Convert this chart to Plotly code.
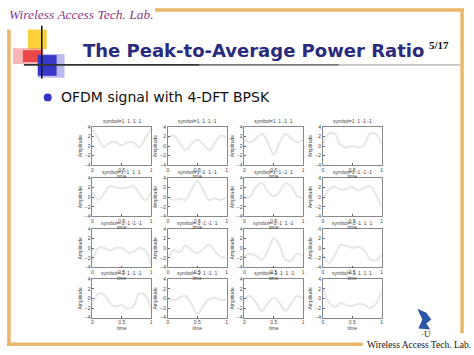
import plotly.graph_objects as go

# ---------------- data ----------------
t = [0, 0.1, 0.2, 0.3, 0.4, 0.5, 0.6, 0.7, 0.8, 0.9, 1.0]

titles = [
    "symbol=1  1  1  1", "symbol=1  1  1 -1", "symbol=1  1 -1  1", "symbol=1  1 -1 -1",
    "symbol=1 -1  1  1", "symbol=1 -1  1 -1", "symbol=1 -1 -1  1", "symbol=1 -1 -1 -1",
    "symbol=-1 -1 -1 -1", "symbol=-1 -1 -1  1", "symbol=-1 -1  1 -1", "symbol=-1 -1  1  1",
    "symbol=-1  1 -1 -1", "symbol=-1  1 -1  1", "symbol=-1  1  1 -1", "symbol=-1  1  1  1",
]

s01 = [3.6, 1.6, -0.2, 0.8, 0.8, 0.1, 0.8, 0.8, -0.2, 1.6, 3.6]
s02 = [1.8, 2.2, 0.6, -0.9, 0.4, 1.3, 0.4, -0.9, 0.6, 2.2, 1.8]
s03 = [1.4, 0.8, 1.6, 2.5, 0.8, -1.8, 0.8, 2.5, 1.6, 0.8, 1.4]
s04 = [0.3, 2.6, 2.6, 0.2, -0.3, 0.0, -0.3, 0.2, 2.6, 2.6, 0.3]
s05 = [1.0, -0.6, 0.8, 2.3, 2.0, 1.8, 2.0, 2.3, 0.8, -0.6, 1.0]
s06 = [0.0, -0.6, -0.3, -0.6, 1.5, 3.4, 1.5, -0.6, -0.3, -0.6, 0.0]
s07 = [-0.2, 0.2, 2.2, 2.9, 1.2, 0.2, 1.2, 2.9, 2.2, 0.2, -0.2]
s08 = [-0.5, 1.5, 2.2, 1.6, 1.7, 2.1, 1.4, 1.9, 2.3, 0.6, -2.0]
s09 = [-3.1, 0.1, 0.1, -0.5, 0.1, 0.1, -0.9, -0.7, 0.1, -0.4, -3.3]
s10 = [-2.0, -0.4, -0.8, 0.6, -0.4, -1.0, -0.2, 0.8, -0.6, -1.8, -2.0]
s11 = [-1.7, -1.1, -1.6, -2.4, -0.5, 2.1, 0.6, -2.4, -2.5, -1.1, -1.6]
s12 = [-1.4, -3.0, -1.5, 0.7, 0.5, 0.1, 0.3, -0.4, -2.2, -2.6, -1.3]
s13 = [-1.6, 1.0, 0.8, -1.0, -1.7, -1.4, -2.2, -1.6, 1.0, 0.6, -2.3]
s14 = [-0.2, -0.4, 0.2, 0.5, -1.2, -3.3, -1.6, -0.2, 0.2, -0.3, -0.3]
s15 = [0.1, 0.5, -1.0, -2.6, -1.0, 0.1, -1.0, -2.6, -1.0, 0.5, 0.0]
s16 = [2.2, -0.8, -1.8, -1.0, -1.4, -1.6, -1.1, -1.3, -2.0, -1.2, 1.6]

series = [s01, s02, s03, s04, s05, s06, s07, s08,
          s09, s10, s11, s12, s13, s14, s15, s16]

y_ticks = [-4, -2, 0, 2, 4]
x_ticks = [0, 0.5, 1]
x_tick_labels = ["0", "0.5", "1"]

# ---------------- layout helpers ----------------
W, H = 474, 355


def X(px):
    return px / W


def Y(py):
    return 1 - py / H


col_left = [92, 168, 245, 324]
row_top = [126, 178, 230, 281]
pw, ph = 59, 39

fig = go.Figure()
layout = dict(
    width=W, height=H, margin=dict(l=0, r=0, t=0, b=0),
    paper_bgcolor="white", plot_bgcolor="white", showlegend=False,
)
annotations = []
shapes = []

small = dict(family="Liberation Sans, Arial, sans-serif", size=5, color="#444")

for i, ys in enumerate(series):
    r, c = divmod(i, 4)
    n = i + 1
    xa = "xaxis" if n == 1 else f"xaxis{n}"
    ya = "yaxis" if n == 1 else f"yaxis{n}"
    xr = "x" if n == 1 else f"x{n}"
    yr = "y" if n == 1 else f"y{n}"
    l, tp = col_left[c], row_top[r]
    fig.add_trace(go.Scatter(
        x=t, y=ys, mode="lines", xaxis=xr, yaxis=yr,
        line=dict(color="#e6e6e6", width=2, shape="spline", smoothing=1.0),
        hoverinfo="skip"))
    layout[xa] = dict(
        domain=[X(l), X(l + pw)], anchor=yr, range=[0, 1],
        tickvals=x_ticks, ticktext=x_tick_labels, ticks="inside", ticklen=2,
        tickcolor="#666", showline=True, mirror=True, linecolor="#888",
        linewidth=0.8, showgrid=False, zeroline=False, tickfont=small,
        title=dict(text="time", font=small, standoff=0),
    )
    layout[ya] = dict(
        domain=[Y(tp + ph), Y(tp)], anchor=xr, range=[-4, 4],
        tickvals=y_ticks, ticks="inside", ticklen=2, tickcolor="#666",
        showline=True, mirror=True, linecolor="#888", linewidth=0.8,
        showgrid=False, zeroline=False, tickfont=small,
        title=dict(text="Amplitude", font=small, standoff=2),
    )
    annotations.append(dict(
        text=titles[i], x=X(l + pw / 2), y=Y(tp - 1), xref="paper", yref="paper",
        xanchor="center", yanchor="bottom", showarrow=False, font=small))

# ---------------- slide decorations ----------------
orange = "#eab66a"
shapes += [
    dict(type="line", x0=X(155), x1=X(466), y0=Y(7), y1=Y(7), xref="paper", yref="paper",
         line=dict(color=orange, width=3.5)),
    dict(type="line", x0=X(464), x1=X(464), y0=Y(6), y1=Y(336), xref="paper", yref="paper",
         line=dict(color=orange, width=3.5)),
    dict(type="line", x0=X(8), x1=X(8), y0=Y(27), y1=Y(348), xref="paper", yref="paper",
         line=dict(color=orange, width=3.5)),
    dict(type="line", x0=X(6), x1=X(364), y0=Y(347), y1=Y(347), xref="paper", yref="paper",
         line=dict(color=orange, width=3.5)),
    # decorative squares
    dict(type="rect", x0=X(27), x1=X(46), y0=Y(47), y1=Y(27), xref="paper", yref="paper",
         fillcolor="#f9d23a", line=dict(width=0)),
    dict(type="rect", x0=X(12), x1=X(42), y0=Y(62), y1=Y(46), xref="paper", yref="paper",
         fillcolor="rgba(240,90,90,0.45)", line=dict(width=0)),
    dict(type="rect", x0=X(22), x1=X(42), y0=Y(60), y1=Y(48), xref="paper", yref="paper",
         fillcolor="rgba(235,50,50,0.85)", line=dict(width=0)),
    dict(type="rect", x0=X(37), x1=X(64), y0=Y(76), y1=Y(52), xref="paper", yref="paper",
         fillcolor="rgba(60,60,210,0.35)", line=dict(width=0)),
    dict(type="rect", x0=X(37), x1=X(56), y0=Y(74), y1=Y(53), xref="paper", yref="paper",
         fillcolor="#3838c8", line=dict(width=0)),
    dict(type="line", x0=X(41), x1=X(41), y0=Y(23), y1=Y(77), xref="paper", yref="paper",
         line=dict(color="#111", width=1.5)),
    dict(type="line", x0=X(23), x1=X(200), y0=Y(63), y1=Y(63), xref="paper", yref="paper",
         line=dict(color="#333", width=1.8)),
    dict(type="line", x0=X(200), x1=X(340), y0=Y(63), y1=Y(63), xref="paper", yref="paper",
         line=dict(color="#777", width=1.8)),
    dict(type="line", x0=X(340), x1=X(462), y0=Y(63), y1=Y(63), xref="paper", yref="paper",
         line=dict(color="#c4c4c4", width=1.8)),
    # bullet
    dict(type="circle", x0=X(43), x1=X(51), y0=Y(100), y1=Y(92), xref="paper", yref="paper",
         fillcolor="#3434c4", line=dict(width=0)),
    # logo
    dict(type="path", path=f"M {X(419)} {Y(311)} L {X(428)} {Y(315)} L {X(433)} {Y(322)} "
                          f"L {X(428)} {Y(326)} L {X(432)} {Y(332)} L {X(420)} {Y(331)} "
                          f"L {X(424)} {Y(322)} Z",
         xref="paper", yref="paper", fillcolor="#2f55a8", line=dict(width=0)),
]

annotations += [
    dict(text="<i>Wireless Access Tech. Lab.</i>", x=X(6), y=Y(12), xref="paper", yref="paper",
         xanchor="left", yanchor="middle", showarrow=False,
         font=dict(family="Liberation Serif, serif", size=13.5, color="#8a3a8a")),
    dict(text="<b>The Peak-to-Average Power Ratio</b>", x=X(254), y=Y(48), xref="paper",
         yref="paper", xanchor="center", yanchor="middle", showarrow=False,
         font=dict(family="DejaVu Sans, sans-serif", size=18, color="#2a2a7e")),
    dict(text="<b>5/17</b>", x=X(429), y=Y(43), xref="paper", yref="paper",
         xanchor="left", yanchor="middle", showarrow=False,
         font=dict(family="Liberation Serif, serif", size=11, color="#111")),
    dict(text="OFDM signal with 4-DFT BPSK", x=X(58), y=Y(96), xref="paper", yref="paper",
         xanchor="left", yanchor="middle", showarrow=False,
         font=dict(family="DejaVu Sans, sans-serif", size=14, color="#111")),
    dict(text="·U", x=X(428), y=Y(337), xref="paper", yref="paper",
         xanchor="center", yanchor="middle", showarrow=False,
         font=dict(family="Liberation Serif, serif", size=9, color="#222")),
    dict(text="Wireless Access Tech. Lab.", x=X(421), y=Y(348), xref="paper", yref="paper",
         xanchor="center", yanchor="middle", showarrow=False,
         font=dict(family="Liberation Serif, serif", size=9.5, color="#111")),
]

layout["annotations"] = annotations
layout["shapes"] = shapes
fig.update_layout(**layout)
fig.write_html("out.html")
